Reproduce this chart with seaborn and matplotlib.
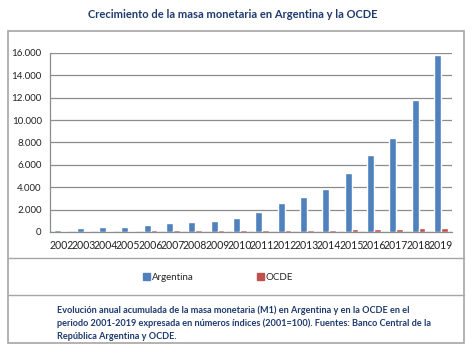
import numpy as np
import pandas as pd
import seaborn as sns
import matplotlib.pyplot as plt
from matplotlib.patches import Rectangle
from matplotlib.lines import Line2D

years = [str(y) for y in range(2002, 2020)]
argentina = [210, 360, 420, 430, 630, 800, 860, 1000, 1270, 1800,
             2580, 3150, 3850, 5230, 6880, 8400, 11800, 15800]
ocde = [110, 115, 125, 130, 140, 150, 155, 170, 180, 190,
        200, 210, 220, 250, 270, 310, 330, 350]
yticks = [0, 2000, 4000, 6000, 8000, 10000, 12000, 14000, 16000]
ytick_labels = ['0', '2.000', '4.000', '6.000', '8.000', '10.000', '12.000', '14.000', '16.000']

df = pd.DataFrame({
    'anio': years * 2,
    'valor': argentina + ocde,
    'serie': ['Argentina'] * len(years) + ['OCDE'] * len(years),
})

sns.set_style('white')
plt.rcParams['font.family'] = ['Lato', 'DejaVu Sans']

fig = plt.figure(figsize=(4.74, 3.53), dpi=100)
ax = fig.add_axes([0.1055, 0.3428, 0.8481, 0.5071])

# marco exterior y separadores
fig.patches.append(Rectangle((0.0169, 0.0283), 0.9621, 0.8837, transform=fig.transFigure,
                             fill=False, edgecolor='#A6A6A6', linewidth=1.2, zorder=0))
for yy in [0.269, 0.164]:
    fig.lines.append(Line2D([0.0169, 0.979], [yy, yy], transform=fig.transFigure,
                            color='#A6A6A6', linewidth=1.0))

sns.barplot(data=df, x='anio', y='valor', hue='serie', ax=ax,
            palette={'Argentina': '#4F81BD', 'OCDE': '#C0504D'},
            width=0.62, saturation=1, legend=False)

ax.set_ylim(0, 16000)
ax.set_xlim(-0.5, len(years) - 0.5)
ax.set_yticks(yticks)
ax.set_yticklabels(ytick_labels)
ax.yaxis.grid(True, color='#8C8C8C', linewidth=0.9)
ax.set_axisbelow(True)
ax.set_xlabel('')
ax.set_ylabel('')
for s in ['top', 'right']:
    ax.spines[s].set_visible(False)
for s in ['left', 'bottom']:
    ax.spines[s].set_color('#8C8C8C')
    ax.spines[s].set_linewidth(0.9)
ax.tick_params(axis='y', length=3, color='#8C8C8C', labelsize=7, pad=3, labelcolor='#222222')
ax.tick_params(axis='x', which='major', length=0, labelsize=7.6, pad=6, labelcolor='#222222')
ax.set_xticks(np.arange(-0.5, len(years), 1), minor=True)
ax.tick_params(axis='x', which='minor', length=3, color='#8C8C8C')

fig.text(0.49, 0.958, 'Crecimiento de la masa monetaria en Argentina y la OCDE',
         ha='center', va='center', fontsize=8, fontweight='bold', color='#1F3A6E')

# leyenda
handles = [Rectangle((0, 0), 1, 1, color='#4F81BD'), Rectangle((0, 0), 1, 1, color='#C0504D')]
fig.legend(handles, ['Argentina', 'OCDE'], loc='center', bbox_to_anchor=(0.46, 0.215),
           ncol=2, frameon=False, fontsize=7, handlelength=0.7, handleheight=0.7,
           handletextpad=0.2, columnspacing=6.5)

caption = ('Evolución anual acumulada de la masa monetaria (M1) en Argentina y en la OCDE en el\n'
           'periodo 2001-2019 expresada en números índices (2001=100). Fuentes: Banco Central de la\n'
           'República Argentina y OCDE.')
fig.text(0.12, 0.085, caption, ha='left', va='center', fontsize=6.6, fontweight='bold',
         color='#1F3A6E', linespacing=1.54)

fig.savefig('out.png', dpi=100)
